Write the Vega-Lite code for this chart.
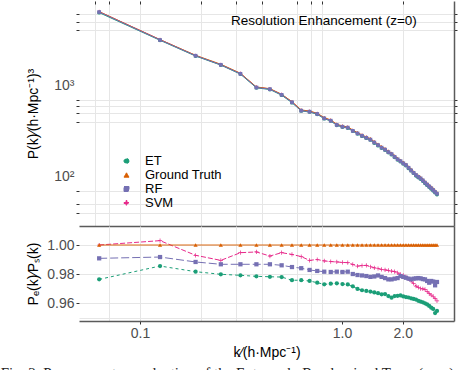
{
"$schema": "https://vega.github.io/schema/vega-lite/v6.json",
"padding": {"left": 0, "top": 0, "right": 0, "bottom": 0},
"spacing": 0,
"bounds": "flush",
"title": {"text": "Fig. 2.  Power spectra evaluation of the Extremely Randomized Trees (ours)", "orient": "bottom", "anchor": "start", "frame": "bounds", "dx": -26, "offset": 7, "font": "Liberation Serif", "fontSize": 15, "fontWeight": "normal", "color": "#222222"},
"config": {
  "view": {"stroke": null},
  "axis": {"labelFont": "Liberation Sans", "titleFont": "Liberation Sans", "labelFontSize": 14, "titleFontSize": 14, "labelColor": "#4d4d4d", "titleColor": "#000000", "titleFontWeight": "normal", "tickColor": "#333333", "gridColor": "#e6e6e6", "gridWidth": 1, "domainColor": "#5a5a5a", "domainWidth": 1.5, "labelPadding": 2},
  "legend": {"labelFont": "Liberation Sans", "labelFontSize": 13, "labelColor": "#000000", "symbolSize": 25, "rowPadding": 0, "labelOffset": 12, "padding": 0, "symbolStrokeWidth": 1}
},
"data": {"values": [
{"k":0.0628,"model":"SVM","P":6407,"ratio":1.0000},{"k":0.1257,"model":"SVM","P":3175,"ratio":1.0030},{"k":0.1885,"model":"SVM","P":2123,"ratio":0.9929},{"k":0.2513,"model":"SVM","P":1687,"ratio":0.9894},{"k":0.3142,"model":"SVM","P":1352,"ratio":0.9947},{"k":0.3770,"model":"SVM","P":958,"ratio":0.9952},{"k":0.4398,"model":"SVM","P":916,"ratio":0.9924},{"k":0.5027,"model":"SVM","P":797,"ratio":0.9947},{"k":0.5655,"model":"SVM","P":661,"ratio":0.9935},{"k":0.6283,"model":"SVM","P":536,"ratio":0.9920},{"k":0.6912,"model":"SVM","P":520,"ratio":0.9894},{"k":0.7540,"model":"SVM","P":492,"ratio":0.9900},{"k":0.8168,"model":"SVM","P":440,"ratio":0.9890},{"k":0.8796,"model":"SVM","P":415,"ratio":0.9886},{"k":0.9425,"model":"SVM","P":373,"ratio":0.9883},{"k":1.0053,"model":"SVM","P":357,"ratio":0.9880},{"k":1.0681,"model":"SVM","P":348,"ratio":0.9878},{"k":1.1310,"model":"SVM","P":322,"ratio":0.9866},{"k":1.1938,"model":"SVM","P":301,"ratio":0.9855},{"k":1.2566,"model":"SVM","P":284,"ratio":0.9858},{"k":1.3195,"model":"SVM","P":270,"ratio":0.9860},{"k":1.3823,"model":"SVM","P":258,"ratio":0.9850},{"k":1.4451,"model":"SVM","P":239,"ratio":0.9843},{"k":1.5080,"model":"SVM","P":224,"ratio":0.9838},{"k":1.5708,"model":"SVM","P":210,"ratio":0.9832},{"k":1.6336,"model":"SVM","P":200,"ratio":0.9828},{"k":1.6965,"model":"SVM","P":189,"ratio":0.9825},{"k":1.7593,"model":"SVM","P":179,"ratio":0.9820},{"k":1.8221,"model":"SVM","P":167,"ratio":0.9816},{"k":1.8850,"model":"SVM","P":157,"ratio":0.9808},{"k":1.9478,"model":"SVM","P":149,"ratio":0.9798},{"k":2.0106,"model":"SVM","P":141,"ratio":0.9790},{"k":2.0735,"model":"SVM","P":135,"ratio":0.9780},{"k":2.1363,"model":"SVM","P":126,"ratio":0.9766},{"k":2.1991,"model":"SVM","P":118,"ratio":0.9752},{"k":2.2619,"model":"SVM","P":111,"ratio":0.9735},{"k":2.3248,"model":"SVM","P":104,"ratio":0.9717},{"k":2.3876,"model":"SVM","P":99.5,"ratio":0.9708},{"k":2.4504,"model":"SVM","P":95.7,"ratio":0.9700},{"k":2.5133,"model":"SVM","P":91.1,"ratio":0.9697},{"k":2.5761,"model":"SVM","P":86.1,"ratio":0.9694},{"k":2.6389,"model":"SVM","P":82.0,"ratio":0.9680},{"k":2.7018,"model":"SVM","P":78.2,"ratio":0.9665},{"k":2.7646,"model":"SVM","P":74.6,"ratio":0.9655},{"k":2.8274,"model":"SVM","P":71.3,"ratio":0.9645},{"k":2.8903,"model":"SVM","P":67.9,"ratio":0.9630},{"k":2.9531,"model":"SVM","P":64.7,"ratio":0.9614},
{"k":0.0628,"model":"Ground Truth","P":6407,"ratio":1},{"k":0.1257,"model":"Ground Truth","P":3166,"ratio":1},{"k":0.1885,"model":"Ground Truth","P":2138,"ratio":1},{"k":0.2513,"model":"Ground Truth","P":1705,"ratio":1},{"k":0.3142,"model":"Ground Truth","P":1359,"ratio":1},{"k":0.3770,"model":"Ground Truth","P":963,"ratio":1},{"k":0.4398,"model":"Ground Truth","P":923,"ratio":1},{"k":0.5027,"model":"Ground Truth","P":801,"ratio":1},{"k":0.5655,"model":"Ground Truth","P":665,"ratio":1},{"k":0.6283,"model":"Ground Truth","P":540,"ratio":1},{"k":0.6912,"model":"Ground Truth","P":526,"ratio":1},{"k":0.7540,"model":"Ground Truth","P":497,"ratio":1},{"k":0.8168,"model":"Ground Truth","P":445,"ratio":1},{"k":0.8796,"model":"Ground Truth","P":420,"ratio":1},{"k":0.9425,"model":"Ground Truth","P":377,"ratio":1},{"k":1.0053,"model":"Ground Truth","P":361,"ratio":1},{"k":1.0681,"model":"Ground Truth","P":352,"ratio":1},{"k":1.1310,"model":"Ground Truth","P":326,"ratio":1},{"k":1.1938,"model":"Ground Truth","P":305,"ratio":1},{"k":1.2566,"model":"Ground Truth","P":288,"ratio":1},{"k":1.3195,"model":"Ground Truth","P":274,"ratio":1},{"k":1.3823,"model":"Ground Truth","P":262,"ratio":1},{"k":1.4451,"model":"Ground Truth","P":243,"ratio":1},{"k":1.5080,"model":"Ground Truth","P":228,"ratio":1},{"k":1.5708,"model":"Ground Truth","P":214,"ratio":1},{"k":1.6336,"model":"Ground Truth","P":204,"ratio":1},{"k":1.6965,"model":"Ground Truth","P":192,"ratio":1},{"k":1.7593,"model":"Ground Truth","P":182,"ratio":1},{"k":1.8221,"model":"Ground Truth","P":170,"ratio":1},{"k":1.8850,"model":"Ground Truth","P":160,"ratio":1},{"k":1.9478,"model":"Ground Truth","P":152,"ratio":1},{"k":2.0106,"model":"Ground Truth","P":144,"ratio":1},{"k":2.0735,"model":"Ground Truth","P":138,"ratio":1},{"k":2.1363,"model":"Ground Truth","P":129,"ratio":1},{"k":2.1991,"model":"Ground Truth","P":121,"ratio":1},{"k":2.2619,"model":"Ground Truth","P":114,"ratio":1},{"k":2.3248,"model":"Ground Truth","P":107,"ratio":1},{"k":2.3876,"model":"Ground Truth","P":102.5,"ratio":1},{"k":2.4504,"model":"Ground Truth","P":98.7,"ratio":1},{"k":2.5133,"model":"Ground Truth","P":93.9,"ratio":1},{"k":2.5761,"model":"Ground Truth","P":88.8,"ratio":1},{"k":2.6389,"model":"Ground Truth","P":84.7,"ratio":1},{"k":2.7018,"model":"Ground Truth","P":80.9,"ratio":1},{"k":2.7646,"model":"Ground Truth","P":77.3,"ratio":1},{"k":2.8274,"model":"Ground Truth","P":73.9,"ratio":1},{"k":2.8903,"model":"Ground Truth","P":70.5,"ratio":1},{"k":2.9531,"model":"Ground Truth","P":67.3,"ratio":1},
{"k":0.0628,"model":"ET","P":6255,"ratio":0.9763},{"k":0.1257,"model":"ET","P":3120,"ratio":0.9855},{"k":0.1885,"model":"ET","P":2099,"ratio":0.9816},{"k":0.2513,"model":"ET","P":1671,"ratio":0.9798},{"k":0.3142,"model":"ET","P":1331,"ratio":0.9791},{"k":0.3770,"model":"ET","P":942,"ratio":0.9784},{"k":0.4398,"model":"ET","P":903,"ratio":0.9781},{"k":0.5027,"model":"ET","P":783,"ratio":0.9779},{"k":0.5655,"model":"ET","P":649,"ratio":0.9757},{"k":0.6283,"model":"ET","P":527,"ratio":0.9757},{"k":0.6912,"model":"ET","P":513,"ratio":0.9752},{"k":0.7540,"model":"ET","P":484,"ratio":0.9740},{"k":0.8168,"model":"ET","P":433,"ratio":0.9729},{"k":0.8796,"model":"ET","P":409,"ratio":0.9733},{"k":0.9425,"model":"ET","P":367,"ratio":0.9736},{"k":1.0053,"model":"ET","P":351,"ratio":0.9731},{"k":1.0681,"model":"ET","P":342,"ratio":0.9728},{"k":1.1310,"model":"ET","P":317,"ratio":0.9715},{"k":1.1938,"model":"ET","P":296,"ratio":0.9697},{"k":1.2566,"model":"ET","P":279,"ratio":0.9688},{"k":1.3195,"model":"ET","P":265,"ratio":0.9683},{"k":1.3823,"model":"ET","P":254,"ratio":0.9679},{"k":1.4451,"model":"ET","P":235,"ratio":0.9673},{"k":1.5080,"model":"ET","P":220,"ratio":0.9668},{"k":1.5708,"model":"ET","P":207,"ratio":0.9660},{"k":1.6336,"model":"ET","P":197,"ratio":0.9662},{"k":1.6965,"model":"ET","P":185,"ratio":0.9648},{"k":1.7593,"model":"ET","P":175,"ratio":0.9637},{"k":1.8221,"model":"ET","P":164,"ratio":0.9648},{"k":1.8850,"model":"ET","P":154,"ratio":0.9650},{"k":1.9478,"model":"ET","P":147,"ratio":0.9652},{"k":2.0106,"model":"ET","P":139,"ratio":0.9645},{"k":2.0735,"model":"ET","P":133,"ratio":0.9641},{"k":2.1363,"model":"ET","P":124,"ratio":0.9638},{"k":2.1991,"model":"ET","P":117,"ratio":0.9632},{"k":2.2619,"model":"ET","P":110,"ratio":0.9628},{"k":2.3248,"model":"ET","P":103,"ratio":0.9624},{"k":2.3876,"model":"ET","P":98.6,"ratio":0.9615},{"k":2.4504,"model":"ET","P":94.9,"ratio":0.9610},{"k":2.5133,"model":"ET","P":90.2,"ratio":0.9605},{"k":2.5761,"model":"ET","P":85.2,"ratio":0.9598},{"k":2.6389,"model":"ET","P":81.2,"ratio":0.9590},{"k":2.7018,"model":"ET","P":77.5,"ratio":0.9580},{"k":2.7646,"model":"ET","P":74.0,"ratio":0.9568},{"k":2.8274,"model":"ET","P":70.6,"ratio":0.9559},{"k":2.8903,"model":"ET","P":67.2,"ratio":0.9531},{"k":2.9531,"model":"ET","P":64.2,"ratio":0.9545},
{"k":0.0628,"model":"RF","P":6348,"ratio":0.9908},{"k":0.1257,"model":"RF","P":3140,"ratio":0.9917},{"k":0.1885,"model":"RF","P":2113,"ratio":0.9883},{"k":0.2513,"model":"RF","P":1682,"ratio":0.9867},{"k":0.3142,"model":"RF","P":1341,"ratio":0.9867},{"k":0.3770,"model":"RF","P":950,"ratio":0.9867},{"k":0.4398,"model":"RF","P":911,"ratio":0.9867},{"k":0.5027,"model":"RF","P":790,"ratio":0.9860},{"k":0.5655,"model":"RF","P":655,"ratio":0.9848},{"k":0.6283,"model":"RF","P":531,"ratio":0.9840},{"k":0.6912,"model":"RF","P":517,"ratio":0.9828},{"k":0.7540,"model":"RF","P":488,"ratio":0.9821},{"k":0.8168,"model":"RF","P":437,"ratio":0.9816},{"k":0.8796,"model":"RF","P":412,"ratio":0.9814},{"k":0.9425,"model":"RF","P":370,"ratio":0.9816},{"k":1.0053,"model":"RF","P":354,"ratio":0.9814},{"k":1.0681,"model":"RF","P":346,"ratio":0.9816},{"k":1.1310,"model":"RF","P":319,"ratio":0.9800},{"k":1.1938,"model":"RF","P":299,"ratio":0.9793},{"k":1.2566,"model":"RF","P":282,"ratio":0.9790},{"k":1.3195,"model":"RF","P":268,"ratio":0.9786},{"k":1.3823,"model":"RF","P":256,"ratio":0.9780},{"k":1.4451,"model":"RF","P":238,"ratio":0.9783},{"k":1.5080,"model":"RF","P":223,"ratio":0.9790},{"k":1.5708,"model":"RF","P":209,"ratio":0.9780},{"k":1.6336,"model":"RF","P":199,"ratio":0.9772},{"k":1.6965,"model":"RF","P":187,"ratio":0.9763},{"k":1.7593,"model":"RF","P":178,"ratio":0.9763},{"k":1.8221,"model":"RF","P":166,"ratio":0.9768},{"k":1.8850,"model":"RF","P":156,"ratio":0.9772},{"k":1.9478,"model":"RF","P":149,"ratio":0.9786},{"k":2.0106,"model":"RF","P":141,"ratio":0.9780},{"k":2.0735,"model":"RF","P":135,"ratio":0.9774},{"k":2.1363,"model":"RF","P":126,"ratio":0.9768},{"k":2.1991,"model":"RF","P":118,"ratio":0.9763},{"k":2.2619,"model":"RF","P":111,"ratio":0.9768},{"k":2.3248,"model":"RF","P":105,"ratio":0.9770},{"k":2.3876,"model":"RF","P":100.2,"ratio":0.9772},{"k":2.4504,"model":"RF","P":96.4,"ratio":0.9770},{"k":2.5133,"model":"RF","P":91.7,"ratio":0.9765},{"k":2.5761,"model":"RF","P":86.7,"ratio":0.9763},{"k":2.6389,"model":"RF","P":82.6,"ratio":0.9752},{"k":2.7018,"model":"RF","P":78.8,"ratio":0.9740},{"k":2.7646,"model":"RF","P":75.4,"ratio":0.9752},{"k":2.8274,"model":"RF","P":72.0,"ratio":0.9748},{"k":2.8903,"model":"RF","P":68.5,"ratio":0.9722},{"k":2.9531,"model":"RF","P":65.6,"ratio":0.9745}
]},
"vconcat": [
{
  "width": 375, "height": 225,
  "layer": [
    {
      "mark": {"type": "line", "strokeWidth": 1, "clip": true},
      "encoding": {
        "x": {"field": "k", "type": "quantitative", "scale": {"type": "log", "domain": [0.0499, 3.585], "nice": false},
              "axis": {"orient": "top", "values": [0.06, 0.07, 0.1, 0.2, 0.3, 0.4, 0.6, 0.7, 0.8, 2], "labels": false, "domain": false, "ticks": true, "tickSize": 3, "offset": -3, "grid": true, "title": null}},
        "y": {"field": "P", "type": "quantitative", "scale": {"type": "log", "domain": [29.1, 8384], "nice": false},
              "axis": {"orient": "left", "values": [40, 50, 70, 100, 400, 500, 600, 700, 1000, 4000, 5000, 6000],
                       "labelExpr": "datum.value == 1000 ? '10³' : (datum.value == 100 ? '10²' : '')",
                       "tickSize": 3,
                       "tickColor": {"condition": {"test": "datum.value == 100 || datum.value == 1000", "value": "transparent"}, "value": "#333333"},
                       "grid": true,
                       "gridColor": {"condition": {"test": "datum.value == 100 || datum.value == 1000", "value": "transparent"}, "value": "#e6e6e6"},
                       "domain": false, "title": "P(k)⁄(h·Mpc⁻¹)³", "titlePadding": 13}},
        "color": {"field": "model", "type": "nominal", "scale": {"domain": ["ET", "Ground Truth", "RF", "SVM"], "range": ["#1b9e77", "#d95f02", "#7570b3", "#e7298a"]},
                  "legend": {"orient": "none", "legendX": 41, "legendY": 153.5, "title": null}}
      }
    },
    {
      "mark": {"type": "point", "filled": true, "size": 14, "opacity": 1, "clip": true},
      "encoding": {
        "x": {"field": "k", "type": "quantitative", "axis": {"orient": "bottom", "labels": false, "ticks": false, "grid": false, "domain": true, "title": null}},
        "y": {"field": "P", "type": "quantitative", "axis": {"orient": "right", "values": [40, 50, 70, 400, 500, 600, 700, 4000, 5000, 6000], "labels": false, "tickSize": 3, "grid": false, "domain": true, "title": null}},
        "color": {"field": "model", "type": "nominal", "legend": {"orient": "none", "legendX": 41, "legendY": 153.5, "title": null}},
        "shape": {"field": "model", "type": "nominal", "scale": {"domain": ["ET", "Ground Truth", "RF", "SVM"], "range": ["circle", "triangle-up", "square", "M-1,-0.17H1V0.17H-1Z M-0.17,-1H0.17V1H-0.17Z"]},
                  "legend": {"orient": "none", "legendX": 41, "legendY": 153.5, "title": null}}
      }
    },
    {
      "data": {"values": [{"label": "Resolution Enhancement (z=0)", "kx": 0.814, "Py": 5070}]},
      "mark": {"type": "text", "font": "Liberation Sans", "fontSize": 13.5, "color": "#000000", "align": "center", "baseline": "middle"},
      "encoding": {
        "x": {"field": "kx", "type": "quantitative", "axis": null},
        "y": {"field": "Py", "type": "quantitative", "axis": null},
        "text": {"field": "label"}
      }
    }
  ],
  "resolve": {"axis": {"x": "independent", "y": "independent"}}
},
{
  "width": 375, "height": 95,
  "layer": [
    {
      "mark": {"type": "line", "strokeWidth": 1, "clip": true},
      "encoding": {
        "x": {"field": "k", "type": "quantitative", "scale": {"type": "log", "domain": [0.0499, 3.585], "nice": false},
              "axis": {"orient": "bottom", "values": [0.1, 1, 2], "labelExpr": "format(datum.value, '.1f')", "tickSize": 3, "domain": true, "grid": false, "title": "k⁄(h·Mpc⁻¹)", "titlePadding": 5}},
        "y": {"field": "ratio", "type": "quantitative", "scale": {"domain": [0.9476, 1.0131], "nice": false, "zero": false},
              "axis": {"orient": "left", "values": [0.95, 0.96, 0.98, 1.0],
                       "labelExpr": "datum.value < 0.955 ? '' : format(datum.value, '.2f')",
                       "tickSize": 3,
                       "tickColor": {"condition": {"test": "datum.value < 0.955", "value": "transparent"}, "value": "#333333"},
                       "grid": true, "domain": false, "title": "Pₑ(k)⁄Pₛ(k)", "titlePadding": 6}},
        "color": {"field": "model", "type": "nominal", "legend": null},
        "strokeDash": {"field": "model", "type": "nominal", "scale": {"domain": ["ET", "Ground Truth", "RF", "SVM"], "range": [[3, 3], [1, 0], [8, 3], [5, 2]]}, "legend": null}
      }
    },
    {
      "mark": {"type": "point", "filled": true, "size": 18, "opacity": 1, "clip": true},
      "encoding": {
        "x": {"field": "k", "type": "quantitative", "axis": {"orient": "top", "values": [0.07, 0.1, 0.2, 0.3, 0.4, 0.6, 0.7, 0.8, 2], "labels": false, "ticks": false, "grid": true, "domain": false, "title": null}},
        "y": {"field": "ratio", "type": "quantitative", "axis": {"orient": "right", "labels": false, "ticks": false, "grid": false, "domain": true, "title": null}},
        "color": {"field": "model", "type": "nominal", "legend": null},
        "shape": {"field": "model", "type": "nominal", "legend": null}
      }
    }
  ],
  "resolve": {"axis": {"x": "independent", "y": "independent"}}
}
]
}
